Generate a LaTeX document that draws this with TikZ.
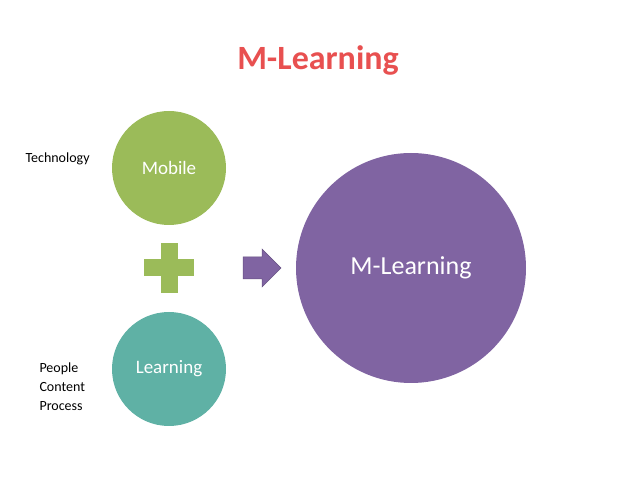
\documentclass[tikz,border=0pt]{standalone}
\usepackage{fontspec}
\setmainfont{Carlito}
\definecolor{mgreen}{RGB}{155,187,89}
\definecolor{mteal}{RGB}{95,177,165}
\definecolor{mpurple}{RGB}{128,100,162}
\definecolor{mred}{RGB}{232,80,80}
\begin{document}
\begin{tikzpicture}[x=1pt,y=-1pt,
  circ/.style={circle,inner sep=0pt,text=white},
  side/.style={font=\fontsize{14}{19}\selectfont,align=left,anchor=west}]
\useasboundingbox (0,0) rectangle (638,478);
\node[text=mred,font=\fontsize{34}{40}\selectfont\bfseries] (title) at (318,60) {M-Learning};
\node[circ,fill=mgreen,minimum size=114pt,font=\fontsize{19}{22}\selectfont] (mob) at (169,168) {Mobile};
\node[circ,fill=mteal,minimum size=114pt,font=\fontsize{19}{22}\selectfont] (lrn) at (169,369) {Learning};
\node[circ,fill=mpurple,minimum size=230pt,font=\fontsize{26}{30}\selectfont] (ml) at (411,268) {M-Learning};
\fill[mgreen] (144,259.5) rectangle (194,276.5);
\fill[mgreen] (160.5,243) rectangle (177.5,293);
\fill[mpurple,draw=mpurple!80!black,line width=0.5pt] (243,257) -- (262,257) -- (262,249) -- (281,268) -- (262,287) -- (262,279) -- (243,279) -- cycle;
\node[side] (tech) at (22,159) {Technology};
\node[side] (pcp) at (36,387) {People\\Content\\Process};
\end{tikzpicture}
\end{document}
